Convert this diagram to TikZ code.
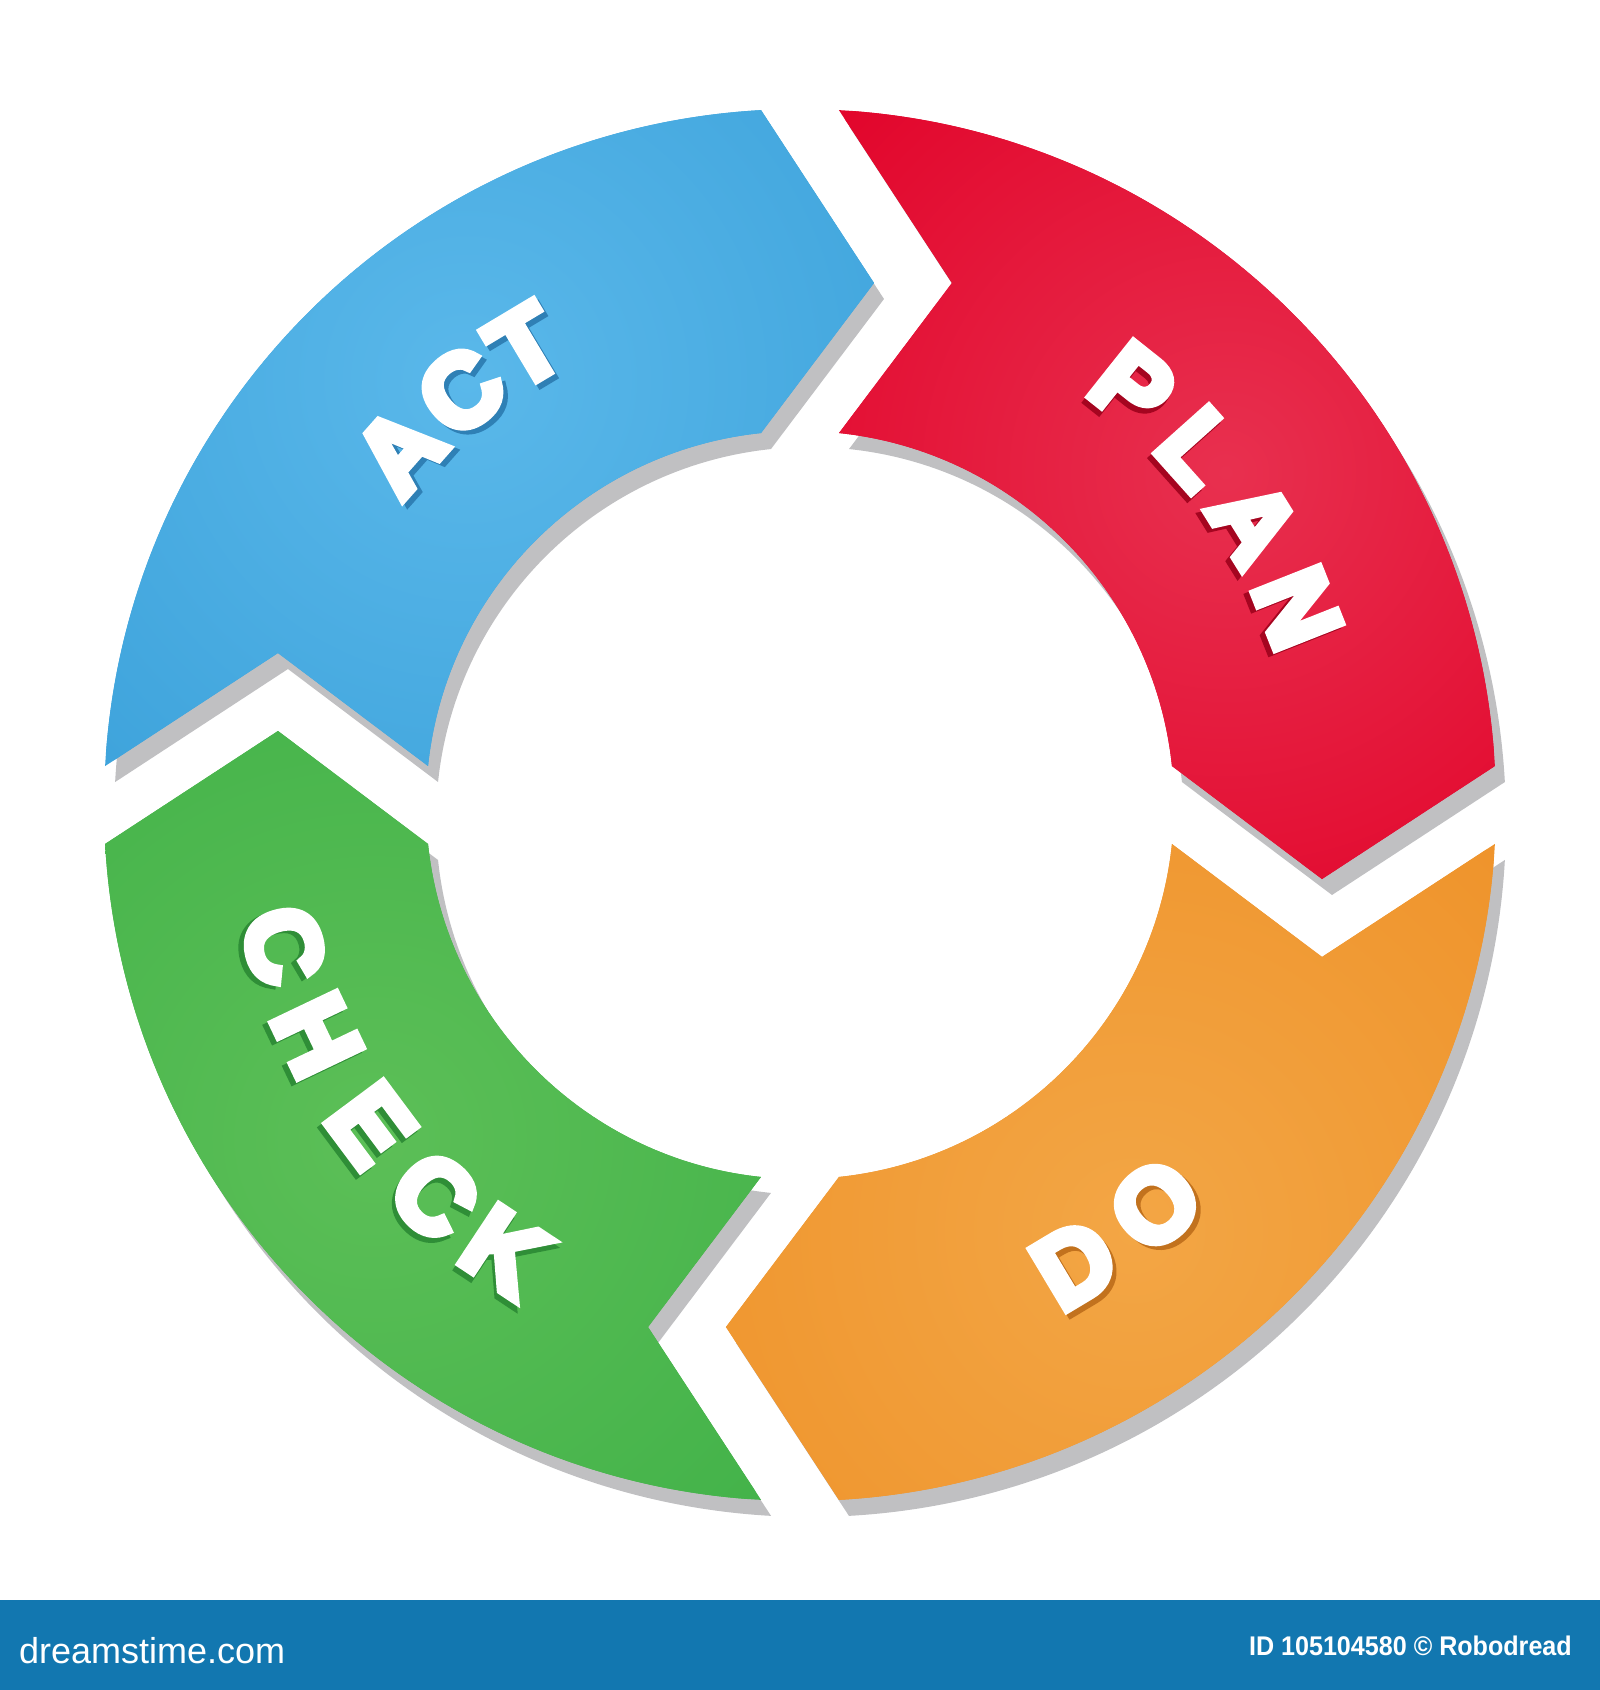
\documentclass[tikz,border=0pt]{standalone}
\usepackage{fontspec}
\usetikzlibrary{calc}
\newfontfamily\heavy{Liberation Sans}[UprightFont=* Bold, FakeBold=8]
\newfontfamily\barsans{Liberation Sans}
\definecolor{actB}{HTML}{3FA4DC}
\definecolor{actL}{HTML}{5AB8EA}
\definecolor{actS}{HTML}{2F80B5}
\definecolor{planB}{HTML}{E2062C}
\definecolor{planL}{HTML}{E8304F}
\definecolor{planS}{HTML}{A50520}
\definecolor{doB}{HTML}{EF942C}
\definecolor{doL}{HTML}{F3A645}
\definecolor{doS}{HTML}{C2721E}
\definecolor{chkB}{HTML}{44B34A}
\definecolor{chkL}{HTML}{5CBF57}
\definecolor{chkS}{HTML}{2F8E37}
\definecolor{segshadow}{HTML}{C0C0C2}
\definecolor{barblue}{HTML}{1277B0}
% one arrow segment (PLAN orientation); others are rotations of it
\newcommand{\SegShape}[1]{#1 (86.79:696) arc[start angle=86.79, end angle=3.21, radius=696pt] -- (522,-74) -- (5.99:374) arc[start angle=5.99, end angle=84.01, radius=374pt] -- (152,522) -- cycle;}
\newcommand{\Segment}[3]{%
  \begin{scope}[rotate=#1]
    \SegShape{\fill[#2]}
    \begin{scope}
      \SegShape{\clip}
      \shade[inner color=#3, outer color=#2] (38:540) circle[radius=520pt];
    \end{scope}
  \end{scope}}
\newcommand{\Ltr}[5]{%
  \node[ltr, text=#5, rotate=#3] (#1s) at ($(#2:535)+({#3-80}:6)$) {#4};
  \node[ltr, rotate=#3] (#1) at (#2:535) {#4};}
\begin{document}
\begin{tikzpicture}[x=1pt, y=1pt,
  ltr/.style={font=\heavy\fontsize{102}{102}\selectfont, text=white, inner sep=0pt, anchor=center}]
\useasboundingbox (-800,-885) rectangle (800,805);
\fill[white] (-800,-885) rectangle (800,805);
% shadows
\foreach \r in {0,90,180,270}{
  \begin{scope}[shift={(10,-16)}, rotate=\r]
    \SegShape{\fill[segshadow]}
  \end{scope}}
% segments
\Segment{0}{planB}{planL}
\Segment{90}{actB}{actL}
\Segment{180}{chkB}{chkL}
\Segment{-90}{doB}{doL}
% ACT
\Ltr{a1}{138.5}{48.5}{A}{actS}
\Ltr{a2}{129.3}{39.3}{C}{actS}
\Ltr{a3}{120.9}{30.9}{T}{actS}
% PLAN
\Ltr{p1}{51.5}{-38.5}{P}{planS}
\Ltr{p2}{41.8}{-48.2}{L}{planS}
\Ltr{p3}{31.9}{-58.1}{A}{planS}
\Ltr{p4}{21.6}{-68.4}{N}{planS}
% DO
\Ltr{d1}{-59.1}{30.9}{D}{doS}
\Ltr{d2}{-48.4}{41.6}{O}{doS}
% CHECK
\Ltr{c1}{-164.8}{-74.8}{C}{chkS}
\Ltr{c2}{-154.5}{-64.5}{H}{chkS}
\Ltr{c3}{-143.3}{-53.3}{E}{chkS}
\Ltr{c4}{-133.1}{-43.1}{C}{chkS}
\Ltr{c5}{-123.5}{-33.5}{K}{chkS}
% bottom bar
\fill[barblue] (-800,-795) rectangle (800,-885);
\node[font=\barsans\fontsize{36}{36}\selectfont, text=white, anchor=base west, inner sep=0pt] (site) at (-781,-858) {dreamstime.com};
\node[font=\barsans\bfseries\fontsize{27}{27}\selectfont, text=white, anchor=base east, inner sep=0pt, xscale=0.93] (credit) at (772,-850) {ID 105104580 © Robodread};
\end{tikzpicture}
\end{document}
